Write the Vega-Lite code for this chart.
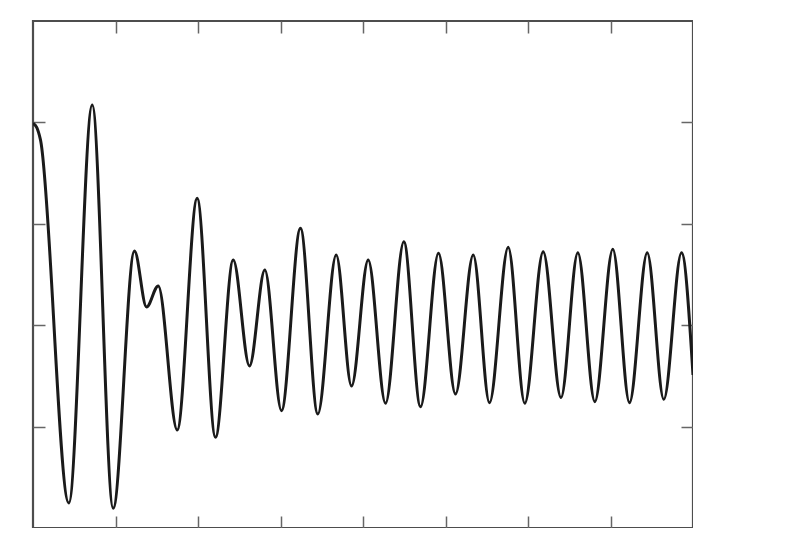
{
  "$schema": "https://vega.github.io/schema/vega-lite/v6.json",
  "width": 660,
  "height": 507,
  "autosize": {"type": "none"},
  "padding": {"left": 33, "top": 21, "right": 0, "bottom": 0},
  "background": "white",
  "config": {
    "view": {"stroke": "#4d4d4d", "strokeWidth": 2.2},
    "axis": {"grid": false, "labels": false, "title": null, "domain": false, "tickColor": "#666666", "tickWidth": 1.5, "tickSize": -12}
  },
  "data": {
    "values": [
      {"t": 0.0, "v": 3.99},
      {"t": 0.045, "v": 3.95},
      {"t": 0.09, "v": 3.83},
      {"t": 0.434, "v": 0.247},
      {"t": 0.718, "v": 4.172},
      {"t": 0.972, "v": 0.194},
      {"t": 1.23, "v": 2.732},
      {"t": 1.376, "v": 2.179},
      {"t": 1.518, "v": 2.387},
      {"t": 1.748, "v": 0.966},
      {"t": 1.99, "v": 3.251},
      {"t": 2.212, "v": 0.894},
      {"t": 2.427, "v": 2.643},
      {"t": 2.624, "v": 1.598},
      {"t": 2.81, "v": 2.544},
      {"t": 3.012, "v": 1.157},
      {"t": 3.242, "v": 2.956},
      {"t": 3.452, "v": 1.124},
      {"t": 3.675, "v": 2.692},
      {"t": 3.861, "v": 1.4},
      {"t": 4.063, "v": 2.643},
      {"t": 4.273, "v": 1.23},
      {"t": 4.495, "v": 2.823},
      {"t": 4.697, "v": 1.196},
      {"t": 4.915, "v": 2.709},
      {"t": 5.121, "v": 1.321},
      {"t": 5.336, "v": 2.692},
      {"t": 5.533, "v": 1.236},
      {"t": 5.76, "v": 2.768},
      {"t": 5.961, "v": 1.23},
      {"t": 6.184, "v": 2.725},
      {"t": 6.4, "v": 1.287},
      {"t": 6.604, "v": 2.715},
      {"t": 6.81, "v": 1.246},
      {"t": 7.028, "v": 2.749},
      {"t": 7.23, "v": 1.236},
      {"t": 7.445, "v": 2.715},
      {"t": 7.646, "v": 1.269},
      {"t": 7.861, "v": 2.715},
      {"t": 8.0, "v": 1.509}
    ]
  },
  "layer": [
    {
      "mark": {"type": "line", "interpolate": "monotone", "color": "#1a1a1a", "strokeWidth": 3, "clip": true},
      "encoding": {
        "x": {"field": "t", "type": "quantitative", "scale": {"domain": [0, 8], "nice": false, "zero": false}, "axis": {"orient": "bottom", "values": [1, 2, 3, 4, 5, 6, 7]}},
        "y": {"field": "v", "type": "quantitative", "scale": {"domain": [0, 5], "nice": false, "zero": false}, "axis": {"orient": "left", "values": [1, 2, 3, 4]}}
      }
    },
    {
      "mark": {"type": "line", "interpolate": "monotone", "opacity": 0},
      "encoding": {
        "x": {"field": "t", "type": "quantitative", "axis": {"orient": "top", "values": [1, 2, 3, 4, 5, 6, 7]}},
        "y": {"field": "v", "type": "quantitative", "axis": {"orient": "right", "values": [1, 2, 3, 4]}}
      }
    }
  ],
  "resolve": {"axis": {"x": "independent", "y": "independent"}}
}
